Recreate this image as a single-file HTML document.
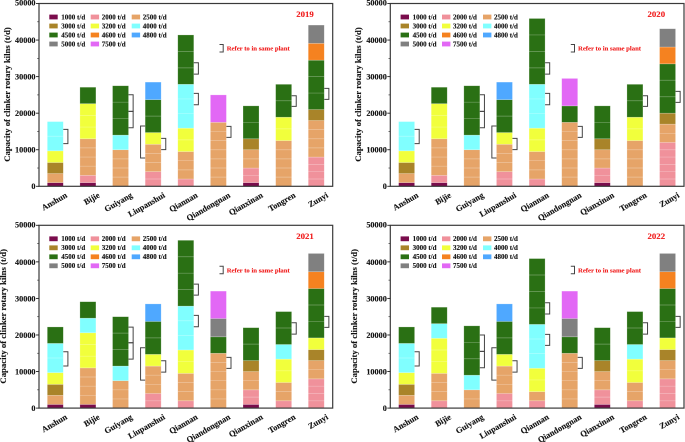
<!DOCTYPE html>
<html lang="en">
<head>
<meta charset="utf-8">
<title>Capacity of clinker rotary kilns by city, 2019-2022</title>
<style>
html,body{margin:0;padding:0;background:#fff;width:685px;height:442px;overflow:hidden}
svg{display:block;font-family:"Liberation Serif",serif;font-weight:bold;filter:blur(0.3px)}
text{stroke:currentColor;stroke-width:0.12px}
</style>
</head>
<body>
<svg id="chart" xmlns="http://www.w3.org/2000/svg" width="685" height="442" viewBox="0 0 685 442"></svg>
<script>
const categories = ["Anshun","Bijie","Guiyang","Liupanshui","Qiannan","Qiandongnan","Qianxinan","Tongren","Zunyi"];
const capacities = [1000,2000,2500,3000,3200,4000,4500,4600,4800,5000,7500];
const capacityColors = ["#7a0c4c","#f0919b","#e6a468","#a98429","#f1ff3c","#80ffff","#2a7014","#f58220","#4fa8ff","#808080","#e268f5"];
const yTicks = [0,10000,20000,30000,40000,50000];
const minorTicks = [5000,15000,25000,35000,45000];
const years = ["2019","2020","2021","2022"];

// Total capacity (t/d) per kiln size, in the order of `capacities`, one row per city.
const values2019 = [
  [1000,0,2500,3000,3200,8000,0,0,0,0,0],
  [1000,2000,10000,0,9600,0,4500,0,0,0,0],
  [0,0,10000,0,0,4000,13500,0,0,0,0],
  [0,4000,7500,0,3200,0,9000,0,4800,0,0],
  [0,2000,7500,0,6400,12000,13500,0,0,0,0],
  [0,0,17500,0,0,0,0,0,0,0,7500],
  [1000,4000,5000,3000,0,0,9000,0,0,0,0],
  [0,0,12500,0,6400,0,9000,0,0,0,0],
  [0,8000,10000,3000,0,0,13500,4600,0,5000,0]
];
const values2020 = [
  [1000,0,2500,3000,3200,8000,0,0,0,0,0],
  [1000,2000,10000,0,9600,0,4500,0,0,0,0],
  [0,0,10000,0,0,4000,13500,0,0,0,0],
  [0,4000,7500,0,3200,0,9000,0,4800,0,0],
  [0,2000,7500,0,6400,12000,18000,0,0,0,0],
  [0,0,17500,0,0,0,4500,0,0,0,7500],
  [1000,4000,5000,3000,0,0,9000,0,0,0,0],
  [0,0,12500,0,6400,0,9000,0,0,0,0],
  [0,12000,5000,3000,0,0,13500,4600,0,5000,0]
];
const values2021 = [
  [1000,0,2500,3000,3200,8000,4500,0,0,0,0],
  [1000,0,10000,0,9600,4000,4500,0,0,0,0],
  [0,0,7500,0,0,4000,13500,0,0,0,0],
  [0,4000,7500,0,3200,0,9000,0,4800,0,0],
  [0,2000,7500,0,6400,12000,18000,0,0,0,0],
  [0,0,15000,0,0,0,4500,0,0,5000,7500],
  [1000,4000,5000,3000,0,0,9000,0,0,0,0],
  [0,2000,5000,0,6400,4000,9000,0,0,0,0],
  [0,8000,5000,3000,3200,0,13500,4600,0,5000,0]
];
const values2022 = [
  [1000,0,2500,3000,3200,8000,4500,0,0,0,0],
  [0,2000,7500,0,9600,4000,4500,0,0,0,0],
  [0,0,5000,0,0,4000,13500,0,0,0,0],
  [0,4000,7500,0,3200,0,9000,0,4800,0,0],
  [0,2000,2500,0,6400,12000,18000,0,0,0,0],
  [0,0,15000,0,0,0,4500,0,0,5000,7500],
  [1000,4000,5000,3000,0,0,9000,0,0,0,0],
  [0,2000,5000,0,6400,4000,9000,0,0,0,0],
  [0,8000,5000,3000,3200,0,13500,4600,0,5000,0]
];

// Same-plant brackets: city index, upper value, lower value, side of the bar (1 right, -1 left).
const brackets2019 = [[0,15570,11660,1],[2,25040,20490,1],[2,20490,16030,1],[3,16480,7740,-1],[3,13110,10020,1],[4,33790,30690,1],[4,25410,22310,1],[5,16390,13390,1],[7,24770,21860,1],[8,26780,23770,1]];
const brackets2020 = [[0,15570,11660,1],[2,25040,20490,1],[2,20490,16030,1],[3,16480,7740,-1],[3,13110,10020,1],[4,33790,30690,1],[4,25410,22310,1],[5,16390,13390,1],[7,24770,21860,1],[8,25960,22950,1]];
const brackets2021 = [[0,15400,11500,1],[2,22150,17880,1],[2,17880,13400,1],[3,16500,7650,-1],[3,12950,9850,1],[4,33900,30900,1],[4,25360,22260,1],[5,13870,10860,1],[7,23360,20250,1],[8,25090,22080,1]];
const brackets2022 = [[0,15400,11500,1],[2,19980,15510,1],[2,15510,11040,1],[3,16500,7650,-1],[3,12950,9850,1],[4,28830,25730,1],[4,20160,17150,1],[5,13870,10860,1],[7,23360,20250,1],[8,25090,22080,1]];

const valuesByYear = [values2019,values2020,values2021,values2022];
const bracketsByYear = [brackets2019,brackets2020,brackets2021,brackets2022];

// Panel placement on the page.
const panelLeft = [39,390.3,39,390.3];
const panelTop = [3.5,3.5,225.3,225.3];
const titleX = [8,359,4,355];
const plotW = 293.7;
const plotH = 182.8;
const yMax = 50000;
const barW = 16;

const svg = document.getElementById('chart');
const NS = 'http://www.w3.org/2000/svg';

function make(parent, tag, attrs, text) {
  const el = document.createElementNS(NS, tag);
  for (const k in attrs) el.setAttribute(k, attrs[k]);
  if (text !== undefined) el.textContent = text;
  parent.appendChild(el);
  return el;
}

function drawPanel(p) {
  const L = panelLeft[p], T = panelTop[p];
  const yScale = v => T + plotH - (v / yMax) * plotH;
  const xScale = i => L + 16.3 + i * 32.62;

  const g = make(svg, 'g', {});
  
  

  // Stacked bars, one rectangle per capacity class with lines between kilns.
  categories.forEach((city, c) => {
    const barG = make(g, 'g', {});
    
    
    let base = 0;
    capacities.forEach((cap, s) => {
      const v = valuesByYear[p][c][s];
      if (!v) return;
      const x = xScale(c) - barW / 2;
      const seg = make(barG, 'rect', {x: x, y: yScale(base + v), width: barW, height: yScale(base) - yScale(base + v), fill: capacityColors[s], stroke: 'rgba(255,255,255,0.35)', 'stroke-width': 0.6});
      
      
      const kilns = Math.round(v / cap);
      for (let k = 1; k < kilns; k++) {
        const yy = yScale(base + k * cap);
        const div = make(barG, 'line', {x1: x, x2: x + barW, y1: yy, y2: yy, stroke: 'rgba(255,255,255,0.35)', 'stroke-width': 0.7});
        
        
      }
      base += v;
    });
  });

  // Same-plant brackets.
  bracketsByYear[p].forEach(b => {
    const side = b[3];
    const edge = xScale(b[0]) + side * barW / 2;
    const out = edge + side * 4.6;
    const y1 = yScale(b[1]), y2 = yScale(b[2]);
    const br = make(g, 'path', {d: 'M' + edge + ' ' + y1 + 'H' + out + 'V' + y2 + 'H' + edge, fill: 'none', stroke: '#444', 'stroke-width': 1});
    
    
  });

  // Frame.
  const frame = make(g, 'rect', {x: L, y: T, width: plotW, height: plotH, fill: 'none', stroke: '#3a3a3a', 'stroke-width': 1.2});
  
  

  // Y axis.
  yTicks.forEach(v => {
    const tick = make(g, 'line', {x1: L - 3, x2: L, y1: yScale(v), y2: yScale(v), stroke: '#222', 'stroke-width': 0.9});
    
    
    const lab = make(g, 'text', {x: L - 3.5, y: yScale(v) + 2.9 - (v === yMax ? 0.8 : 0), 'text-anchor': 'end', 'font-size': 8.2, fill: '#111', color: '#111'}, String(v));
    
    
  });
  minorTicks.forEach(v => {
    const tick = make(g, 'line', {x1: L - 1.8, x2: L, y1: yScale(v), y2: yScale(v), stroke: '#333', 'stroke-width': 0.7});
    
    
  });

  // Y title.
  const cy = T + 91;
  const title = make(g, 'text', {x: titleX[p], y: cy, transform: 'rotate(-90 ' + titleX[p] + ' ' + cy + ')', 'text-anchor': 'middle', 'dominant-baseline': 'middle', 'font-size': 8.7, fill: '#111', color: '#111'}, 'Capacity of clinker rotary kilns (t/d)');
  
  

  // X labels.
  categories.forEach((city, c) => {
    const ax = xScale(c) + 12.5, ay = T + plotH + 10.5;
    const lab = make(g, 'text', {x: ax, y: ay, transform: 'rotate(-30 ' + ax + ' ' + ay + ')', 'text-anchor': 'end', 'font-size': 8.4, fill: '#111', color: '#111'}, city);
    
    
  });

  // Legend: three columns, filled row by row.
  const colSwatch = [10.3, 51.7, 92.7];
  const colText = [22.3, 62.7, 103.7];
  capacities.forEach((cap, i) => {
    const col = i % 3, row = Math.floor(i / 3);
    const ry = T + 13.5 + row * 9;
    const entry = make(g, 'g', {});
    
    
    make(entry, 'rect', {x: L + colSwatch[col], y: ry - 2.4, width: 8.4, height: 4.8, fill: capacityColors[i]});
    make(entry, 'text', {x: L + colText[col], y: ry + 2.3, 'font-size': 7, fill: '#111', color: '#111'}, cap + ' t/d');
  });

  // Year label.
  const yr = make(g, 'text', {x: L + 266, y: T + 13.5, 'text-anchor': 'middle', 'font-size': 8.8, fill: '#f01c1c', color: '#f01c1c'}, years[p]);
  
  

  // Bracket key.
  const kx = L + 180.5, ky = T + 41;
  const key = make(g, 'path', {d: 'M' + kx + ' ' + ky + 'H' + (kx + 3.7) + 'V' + (ky + 7.5) + 'H' + kx, fill: 'none', stroke: '#444', 'stroke-width': 1});
  
  
  const note = make(g, 'text', {x: L + 187.7, y: T + 47.2, 'font-size': 6.7, fill: '#f01c1c', color: '#f01c1c'}, 'Refer to in same plant');
  
  
}

years.forEach((y, p) => drawPanel(p));
</script>
</body>
</html>
